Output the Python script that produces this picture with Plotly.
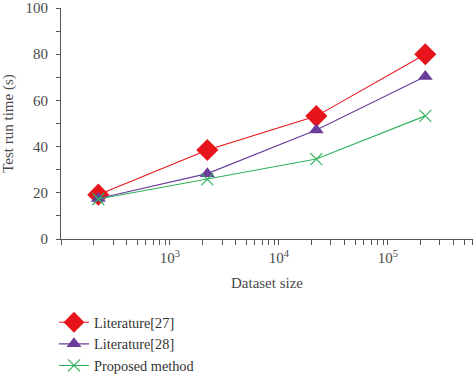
import plotly.graph_objects as go

dataset_size = [220, 2200, 22000, 220000]
lit27 = [19.2, 38.5, 53.2, 80.0]
lit28 = [17.5, 28.3, 47.2, 70.3]
proposed = [17.3, 25.8, 34.6, 53.3]
names = ["Literature[27]", "Literature[28]", "Proposed method"]

# x tick values (log minor ticks) and labels
xtickvals = [m * 10 ** k for k in range(2, 6) for m in range(1, 10)]
xticktext = ["10<sup>%d</sup>" % k if m == 1 and k in (3, 4, 5) else "" for k in range(2, 6) for m in range(1, 10)]

font_fam = "Liberation Serif, Times New Roman, serif"
grey = "#4a4a4a"

fig = go.Figure()
fig.add_trace(go.Scatter(x=dataset_size, y=lit27, name=names[0], mode="lines+markers",
                         line=dict(color="#e8141c", width=1.1),
                         marker=dict(symbol="diamond", size=17, color="#e8141c")))
fig.add_trace(go.Scatter(x=dataset_size, y=lit28, name=names[1], mode="lines+markers",
                         line=dict(color="#6a3d9a", width=1.1),
                         marker=dict(symbol="triangle-up", size=13, color="#6a3d9a")))
fig.add_trace(go.Scatter(x=dataset_size, y=proposed, name=names[2], mode="lines+markers",
                         line=dict(color="#2eb35a", width=1.1),
                         marker=dict(symbol="x-thin", size=12, color="#2eb35a",
                                     line=dict(color="#2eb35a", width=1.2))))

fig.update_layout(
    width=474, height=376,
    margin=dict(l=61, r=1, t=8, b=137, autoexpand=False),
    paper_bgcolor="white", plot_bgcolor="white",
    font=dict(family=font_fam, color=grey, size=15),
    showlegend=True,
    legend=dict(x=-0.017, y=-0.292,
                xanchor="left", yanchor="top", font=dict(size=14.3, color="#333"),
                bgcolor="rgba(0,0,0,0)", itemwidth=30, tracegroupgap=0),
    xaxis=dict(type="log", range=[2.0, 5.78], showgrid=False, zeroline=False,
               showline=True, linecolor="#555", linewidth=1,
               tickmode="array", tickvals=xtickvals, ticktext=xticktext,
               ticks="outside", ticklen=5, tickcolor="#555",
               tickfont=dict(size=15, color=grey),
               title=dict(text="Dataset size", font=dict(size=15, color=grey), standoff=12)),
    yaxis=dict(range=[0, 100], showgrid=False, zeroline=False,
               showline=True, linecolor="#555", linewidth=1,
               tickmode="linear", tick0=0, dtick=20,
               ticks="outside", ticklen=4, tickcolor="#555", ticklabeloverflow="allow",
               ticklabelstandoff=5,
               minor=dict(ticks="outside", dtick=10, ticklen=4, tickcolor="#555"),
               tickfont=dict(size=15, color=grey),
               title=dict(text="Test run time (s)", font=dict(size=15, color=grey), standoff=9)),
)

fig.write_html("out.html", config={"displayModeBar": False},
               post_script="document.body.style.margin='0';")
